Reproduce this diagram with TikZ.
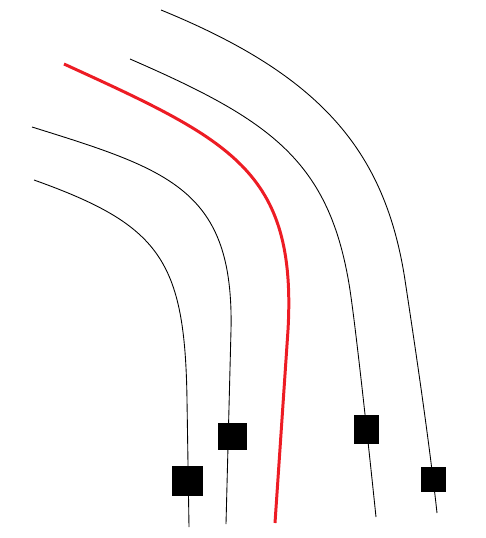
\documentclass[tikz,border=0pt]{standalone}
\usepackage{tikz}
\usetikzlibrary{calc}
\tikzset{
every picture/.style={line width=0.5pt, x=0.02cm, y=-0.02cm},
%%%%%%%%%%  Node styles
emptynode/.style={circle,minimum size=0pt, inner sep=0pt, outer
sep=0},
sensor/.style args={#1,#2}{fill=black,rectangle,inner sep=0pt, outer sep=0,
                 minimum width=#1*0.02cm, minimum height=#2*0.02cm},
%%%% different line styles:
flowline/.style={black, line width=0.5pt},
mainline/.style={color=mainred, line width=1.7pt}
}
\definecolor{mainred}{RGB}{237,28,36}
\begin{document}
\begin{tikzpicture}
\useasboundingbox (0,0) rectangle (485,538);
%% black curves
\draw[flowline] (34,180)
	.. controls (160,225) and (185,260) .. (187,400)
	-- (189,527);
\draw[flowline] (32,127)
	.. controls (170,170) and (234,190) .. (231,330)
	-- (226,524);
\draw[flowline] (130,59)
	.. controls (270,120) and (330,160) .. (350,290)
	.. controls (356,330) and (368,440) .. (376,517);
\draw[flowline] (161,10)
	.. controls (320,75) and (385,150) .. (405,280)
	.. controls (411,320) and (428,430) .. (437,513);
%% red curve
\draw[mainline] (64,64)
	.. controls (230,140) and (297,170) .. (288,330)
	-- (275,523);
%% squares
\node[sensor={31,30}] (s1) at (187,481) {};
\node[sensor={29,27}] (s2) at (232,436) {};
\node[sensor={25,29}] (s3) at (366,429) {};
\node[sensor={25,25}] (s4) at (433,479) {};
\end{tikzpicture}
\end{document}
